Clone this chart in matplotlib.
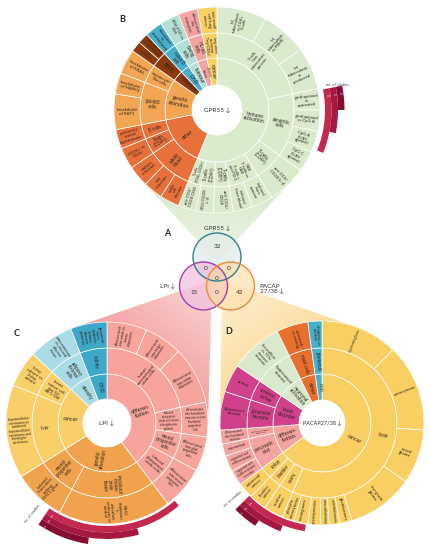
import textwrap
import numpy as np
import matplotlib
matplotlib.use('Agg')
import matplotlib.pyplot as plt
from matplotlib.patches import Wedge, Circle, Polygon
from matplotlib.colors import to_rgb

plt.rcParams['font.family'] = ['Lato', 'DejaVu Sans']

# ---------------- data ----------------
# B: GPR55
b_inner_labels = ['immune activation', 'other', 'genetic alteration', 'infection', 'DKD',
                  'tumour', 'differen- tiation', 'cancer']
b_inner_colors = ['#d9eacd', '#e8703a', '#f2a553', '#8a3a0e', '#47aecb', '#b3dfd4', '#f4a3a3', '#f9d064']
b_mid_labels = ['T-cells from tuberculosis patients', 'dendritic cells', 'T-cells (CD4+)',
                'CAR T-cells vs CAR T-cells + anti-PD-1', 'T-cells (CD8+)', 'T-cells (CD4+)',
                'T-cells (CD4+ CD25-)', 'whole blood', 'Tregs (CD4+)', 'B cells', 'SW480 cells',
                'hepatocyte-like cells', 'PBMC', 'naive B cell', 'Ewing cells', 'HL-60 cells',
                'lung adeno- carcinoma Treg (CD4+)']
b_mid_parent = [0, 0, 0, 0, 0, 0, 0, 1, 1, 1, 2, 2, 3, 4, 5, 6, 7]
b_leaf_labels = ['M. tuberculosis vs CD4+ T-cells', 'M. tuberculosis vs PBMC', 'M. tuberculosis vs uninfected',
                 'gardiquimod vs untreated', 'gardiquimod vs CpG A', 'CpG A (TLR9 agonist)',
                 'CpG C (TLR9 agonist)', 'anti-CD3/ CD28 IL-4', 'isolated from tumour',
                 'isolated from blood', 'anti-CD3/ CD28', 'CD3/CD28 IL-4', 'anti-CD3/ CD28 CD8',
                 'sickle cell disease', 'HIV infection', 'malaria infection', 'CD16+ vs CD16-',
                 'pulmonary arterial hypertension', 'knockdown of RAF1', 'knockdown of MAPK3',
                 'knockdown of KRAS', 'HIV elite controllers vs progressors', 'HIV infected vs uninfected',
                 'stimulated vs unstimulated', 'B16-F10 vs B16', 'differentiated into neutrophils',
                 'non-small cell lung cancer']
b_leaf_parent = [0, 0, 0, 1, 1, 1, 1, 2, 3, 3, 4, 5, 6, 7, 7, 7, 8, 9, 10, 10, 11, 12, 12, 13, 14, 15, 16]
b_leaf_values = [28, 26, 24, 12, 12, 12, 12, 22, 12, 11, 11, 10, 10, 11, 11, 12, 12, 11, 20, 12, 14,
                 6, 6, 10, 11, 11, 11]

# C: LPI
c_inner_labels = ['differen- tiation', 'genetic alteration', 'cancer', 'obesity', 'DKD']
c_inner_colors = ['#f6a49c', '#f0a24d', '#f8cf68', '#a9dce7', '#3ea8c9']
c_mid_labels = ['human mesenchymal stem cells',
                'induced pluripotent stem cells from schizophrenia patients',
                'neural progenitor cells', 'induced pluripotent stem cells',
                'knockout mouse brain tissue', 'neural progenitor cells', 'liver',
                'breast cancer cell line SV- BR-1-GM', 'adipose stromal cells', 'kidney']
c_mid_parent = [0, 0, 0, 0, 1, 1, 2, 2, 3, 4]
c_leaf_labels = ['differentiated into white vs brown adipocytes', 'differentiated into beige adipocytes',
                 'differentiated into white adipocytes',
                 'differentiated into functional neurons vs into functional progenitor cells',
                 'differentiated into glial progenitor cells', 'differentiated into neural progenitor cells',
                 'PAX3 depletion in zebrafish embryos vs control', 'isolated from mice lacking DISC1 gene',
                 'hepatocellular carcinoma vs combined hepatocellular carcinoma and cholangio- carcinoma',
                 '5-day culture vs 2-day culture', 'subcutaneous vs visceral adipose tissue',
                 'glomeruli from diabetic kidney disease patients']
c_leaf_parent = [0, 0, 0, 1, 2, 3, 4, 5, 6, 7, 8, 9]
c_leaf_values = [23, 22, 33, 20, 20, 25, 65, 30, 54, 21, 26, 21]

# D: PACAP27/38
d_inner_labels = ['cancer', 'differen- tiation', 'brain disorder', 'neuronal activation', 'other', 'DKD']
d_inner_colors = ['#f9cf64', '#f5a3a0', '#d1418b', '#d8eacb', '#e8702f', '#47aecb']
d_mid_labels = ['brain', 'ovary', 'bladder', 'colon', 'pancreatic islet', 'induced pluripotent stem cells',
                'pyramidal neurons', 'cerebral cortex', 'hippocampal neurons', 'mast cells', 'glomeruli']
d_mid_parent = [0, 0, 0, 0, 1, 1, 2, 2, 3, 4, 5]
d_leaf_labels = ['oligodendroglioma', 'astrocytoma', 'mixed glioma', 'low-grade glioma', 'glioblastoma',
                 'medulloblastoma', 'neuroblastoma', 'ependymoma', 'meningioma', 'pilocytic astrocytoma',
                 'ovarian cancer', 'bladder cancer', 'colorectal cancer',
                 'expanded and redifferentiated vs native', 'expanded and redifferentiated', 'expanded',
                 'differentiated into functional neurons', "Alzheimer's disease", 'autism',
                 'bicuculline vs TTX-treated neurons', 'activated vs resting', 'diabetic vs control']
d_leaf_parent = [0, 0, 0, 0, 0, 0, 0, 0, 0, 0, 1, 2, 3, 4, 4, 4, 5, 6, 7, 8, 9, 10]
d_leaf_values = [44, 50, 31, 38, 7, 6, 5, 7, 8, 7, 11, 10, 9, 9, 9, 7, 8, 22, 16, 30, 18, 8]

# Venn (A)
venn_sets = ['GPR55 ↓', 'LPI ↓', 'PACAP\n27/38 ↓']
venn_only = [32, 15, 42]          # GPR55 only, LPI only, PACAP only
venn_pairs = [0, 0, 0]            # GPR55&LPI, GPR55&PACAP, LPI&PACAP
venn_all = 0

legend_studies = [3, 2, 1]
legend_colors = ['#c4284f', '#a5183f', '#870c31']

TXT = '#2a221c'

# ---------------- figure ----------------
fig = plt.figure(figsize=(4.3, 5.5), dpi=100)
ax = fig.add_axes([0, 0, 1, 1])
ax.set_xlim(0, 430)
ax.set_ylim(550, 0)
ax.set_aspect('equal')
ax.axis('off')


def pt(cx, cy, r, th):
    t = np.radians(th)
    return cx + r * np.sin(t), cy - r * np.cos(t)


def rad_rot(th):
    rot = 90 - th
    while rot > 90:
        rot -= 180
    while rot <= -90:
        rot += 180
    return rot


def fit(label, ring_w, arc_len, fs0):
    fs = fs0
    while True:
        cw = 0.5 * fs * 1.389
        maxc = max(4, int((ring_w - 3) / cw))
        lines = textwrap.wrap(label, maxc, break_long_words=False)
        h = len(lines) * 1.12 * fs * 1.389
        wmax = max(len(l) for l in lines) * cw
        if (h <= arc_len * 0.92 and wmax <= ring_w - 1) or fs <= 1.7:
            break
        fs -= 0.15
    return '\n'.join(lines), fs


def label(cx, cy, r0, r1, a0, a1, text, fs0):
    th = (a0 + a1) / 2
    rm = (r0 + r1) / 2
    arc = np.radians(a1 - a0) * rm
    s, fs = fit(text, r1 - r0, arc, fs0)
    x, y = pt(cx, cy, rm, th)
    ax.text(x, y, s, fontsize=fs, color=TXT, ha='center', va='center', rotation=rad_rot(th),
            rotation_mode='anchor', multialignment='center', linespacing=1.0, zorder=6)


def sunburst(cx, cy, radii, inner_labels, inner_colors, mid_labels, mid_parent,
             leaf_labels, leaf_parent, leaf_values, center_label, cfs):
    tot = float(sum(leaf_values))
    a = 0.0
    leaf_sp = []
    for v in leaf_values:
        leaf_sp.append((a, a + 360 * v / tot))
        a += 360 * v / tot
    mid_sp = []
    for m in range(len(mid_labels)):
        ch = [leaf_sp[i] for i in range(len(leaf_values)) if leaf_parent[i] == m]
        mid_sp.append((min(c[0] for c in ch), max(c[1] for c in ch)))
    in_sp = []
    for k in range(len(inner_labels)):
        ch = [mid_sp[i] for i in range(len(mid_labels)) if mid_parent[i] == k]
        in_sp.append((min(c[0] for c in ch), max(c[1] for c in ch)))
    r0, r1, r2, r3 = radii
    for k, (s, e) in enumerate(in_sp):
        ax.add_patch(Wedge((cx, cy), r1, s - 90, e - 90, width=r1 - r0, facecolor=inner_colors[k],
                           edgecolor='white', lw=0.5, zorder=3))
        label(cx, cy, r0, r1, s, e, inner_labels[k], 3.8)
    for m, (s, e) in enumerate(mid_sp):
        col = inner_colors[mid_parent[m]]
        ax.add_patch(Wedge((cx, cy), r2, s - 90, e - 90, width=r2 - r1, facecolor=col,
                           edgecolor='white', lw=0.5, zorder=3))
        label(cx, cy, r1, r2, s, e, mid_labels[m], 3.3)
    for i, (s, e) in enumerate(leaf_sp):
        col = inner_colors[mid_parent[leaf_parent[i]]]
        ax.add_patch(Wedge((cx, cy), r3, s - 90, e - 90, width=r3 - r2, facecolor=col,
                           edgecolor='white', lw=0.5, zorder=3))
        label(cx, cy, r2, r3, s, e, leaf_labels[i], 3.1)
    ax.add_patch(Circle((cx, cy), r0, facecolor='white', edgecolor='none', zorder=3.5))
    ax.text(cx, cy, center_label, fontsize=cfs, color='#333333', ha='center', va='center', zorder=6)


def legend_arcs(cx, cy, r_in, start, per, direction, txt_th, txt_rot=None, txt_xy=None):
    w = 6.5
    for j, n in enumerate(legend_studies):
        ra = r_in + j * w
        span = per * n
        if direction > 0:
            s, e = start, start + span
            nth = start + 3
        else:
            s, e = start - span, start
            nth = start - 3
        ax.add_patch(Wedge((cx, cy), ra + w, s - 90, e - 90, width=w, facecolor=legend_colors[j],
                           edgecolor='none', zorder=3))
        x, y = pt(cx, cy, ra + w / 2, nth)
        ax.text(x, y, str(n), fontsize=2.6, color='white', ha='center', va='center', zorder=6,
                rotation=rad_rot(nth) - 90 if direction > 0 else rad_rot(nth) + 90)
    if txt_xy is not None:
        ax.text(txt_xy[0], txt_xy[1], 'no. of studies', fontsize=2.8, color='#444444',
                ha='center', va='center', zorder=6)
    else:
        x, y = pt(cx, cy, r_in + 14, txt_th)
        ax.text(x, y, 'no. of studies', fontsize=2.8, color='#444444', ha='center', va='center',
                rotation=rad_rot(txt_th), rotation_mode='anchor', zorder=6)


def funnel(apex, c, R, color, a0, a1):
    P = np.array(apex, float)
    Q = np.array(c, float)
    d = np.linalg.norm(Q - P)
    u = (Q - P) / d
    half = np.arcsin(R / d)
    base = np.arctan2(u[1], u[0])
    L = np.sqrt(d * d - R * R)
    pts = [tuple(P)]
    for ang in (base - half, base + half):
        pts.append((P[0] + L * np.cos(ang), P[1] + L * np.sin(ang)))
    pts.insert(2, tuple(Q))
    poly = Polygon(pts, closed=True, transform=ax.transData)
    X, Y = np.meshgrid(np.arange(430) + 0.5, np.arange(550) + 0.5)
    t = np.clip(((X - P[0]) * u[0] + (Y - P[1]) * u[1]) / (L * np.cos(half)), 0, 1)
    img = np.zeros((550, 430, 4))
    img[..., :3] = to_rgb(color)
    img[..., 3] = a0 + (a1 - a0) * t
    im = ax.imshow(img, extent=(0, 430, 550, 0), origin='upper', zorder=1, interpolation='bilinear')
    im.set_clip_path(poly)


# centres / radii (layout)
B_C, B_R = (217, 110), (25, 52, 77, 103)
C_C, C_R = (107, 423), (24, 49, 75, 101)
D_C, D_R = (322, 423), (23, 49, 75, 102)
V_C = [(217, 257), (203.5, 286), (230.5, 286)]
V_R = 24

funnel((217, 262), B_C, B_R[3], '#d3e7c5', 0.4, 0.95)
funnel((212, 280), C_C, C_R[3], '#f29393', 0.35, 0.95)
funnel((222, 280), D_C, D_R[3], '#fbd58a', 0.35, 0.9)

sunburst(*B_C, B_R, b_inner_labels, b_inner_colors, b_mid_labels, b_mid_parent,
         b_leaf_labels, b_leaf_parent, b_leaf_values, 'GPR55 ↓', 4.6)
sunburst(*C_C, C_R, c_inner_labels, c_inner_colors, c_mid_labels, c_mid_parent,
         c_leaf_labels, c_leaf_parent, c_leaf_values, 'LPI ↓', 4.6)
sunburst(*D_C, D_R, d_inner_labels, d_inner_colors, d_mid_labels, d_mid_parent,
         d_leaf_labels, d_leaf_parent, d_leaf_values, 'PACAP27/38 ↓', 4.0)

legend_arcs(*B_C, 108, 79, 11, +1, None, txt_xy=(337, 85))
legend_arcs(*C_C, 103, 214, 25, -1, 219.5)
legend_arcs(*D_C, 103, 225, 12, -1, 229.5)

# Venn
v_face = ['#d6e5df', '#eeaad2', '#fdd895']
v_edge = ['#2f7f8e', '#a23fb0', '#f0883a']
for (x, y), fc in zip(V_C, v_face):
    ax.add_patch(Circle((x, y), V_R, facecolor='white', edgecolor='none', alpha=0.45, zorder=4))
for (x, y), fc in zip(V_C, v_face):
    ax.add_patch(Circle((x, y), V_R, facecolor=fc, edgecolor='none', alpha=0.55, zorder=4.1))
for (x, y), ec in zip(V_C, v_edge):
    ax.add_patch(Circle((x, y), V_R, facecolor='none', edgecolor=ec, lw=1.0, zorder=4.2))

cen = np.mean(np.array(V_C), axis=0)
for (x, y), n in zip(V_C, venn_only):
    v = np.array([x, y]) - cen
    p = cen + v / np.linalg.norm(v) * (np.linalg.norm(v) + 11)
    ax.text(p[0], p[1], str(n), fontsize=4.6, color='#333333', ha='center', va='center', zorder=6)
pairs = [(0, 1), (0, 2), (1, 2)]
for (i, j), n in zip(pairs, venn_pairs):
    m = (np.array(V_C[i]) + np.array(V_C[j])) / 2
    v = m - cen
    p = cen + v / np.linalg.norm(v) * (np.linalg.norm(v) + 6)
    ax.text(p[0], p[1], str(n), fontsize=4.6, color='#333333', ha='center', va='center', zorder=6)
ax.text(cen[0], cen[1] + 2, str(venn_all), fontsize=4.6, color='#333333', ha='center', va='center', zorder=6)

ax.text(V_C[0][0], V_C[0][1] - V_R - 2, venn_sets[0], fontsize=4.6, color='#333333',
        ha='center', va='bottom', zorder=6)
ax.text(V_C[1][0] - V_R - 4, V_C[1][1], venn_sets[1], fontsize=4.6, color='#333333',
        ha='right', va='center', zorder=6)
ax.text(V_C[2][0] + V_R + 5, V_C[2][1] + 3, venn_sets[2], fontsize=4.6, color='#333333',
        ha='left', va='center', zorder=6, linespacing=1.1)

for s, (x, y) in zip(['A', 'B', 'C', 'D'], [(167, 234), (122, 20), (17, 333), (229, 332)]):
    ax.text(x, y, s, fontsize=6.5, fontweight='bold', color='#222222', ha='center', va='center', zorder=7)

ax.set_xlim(0, 430)
ax.set_ylim(550, 0)
fig.savefig('out.png', dpi=100, facecolor='white')
